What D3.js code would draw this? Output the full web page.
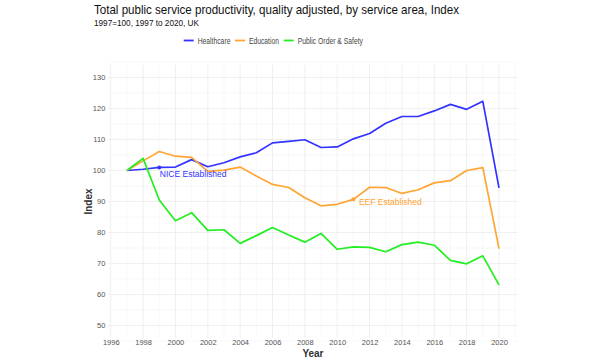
<!DOCTYPE html>
<html>
<head>
<meta charset="utf-8">
<script src="https://cdn.jsdelivr.net/npm/d3@7"></script>
<style>
	body { margin: 0; background: #fff; }
	text { font-family: "Liberation Sans", Arial, sans-serif; }
</style>
</head>
<body>
<svg id="chart" width="602" height="360"></svg>
<script>
// data
var years = d3.range(1997, 2021);
var healthcare = [100, 100.4, 101.0, 101.1, 103.5, 101.2, 102.5, 104.4, 105.7, 108.9, 109.4, 109.9,
	107.4, 107.6, 110.2, 111.9, 115.2, 117.4, 117.4, 119.2, 121.3, 119.7, 122.3, 94.4];
var education = [100, 103.1, 106.1, 104.6, 104.2, 99.7, 100.1, 101.1, 98.2, 95.5, 94.5, 91.2,
	88.6, 89.1, 90.7, 94.6, 94.5, 92.6, 93.8, 96.0, 96.7, 100.0, 100.9, 74.8];
var publicOrder = [100, 103.9, 90.5, 83.8, 86.4, 80.7, 80.9, 76.5, 79.0, 81.6, 79.2, 76.9,
	79.7, 74.6, 75.4, 75.2, 73.8, 76.1, 76.9, 75.9, 71.0, 69.9, 72.5, 63.1];
var seriesNames = ["Healthcare", "Education", "Public Order & Safety"];
var seriesColors = ["#3333ff", "#ffa533", "#22ee22"];
var xTicks = d3.range(1996, 2021, 2);
var yTicks = d3.range(50, 131, 10);
var annotations = [
	{ series: 0, year: 1999, label: "NICE Established", dx: 0.6, dy: 9.5 },
	{ series: 1, year: 2011, label: "EEF Established", dx: 5.5, dy: 6 }
];

var svg = d3.select("#chart");
var pLeft = 108.3, pRight = 517.6, pTop = 65, pBottom = 338;

var x = d3.scaleLinear().domain([1995.85, 2021.15]).range([pLeft, pRight]);
var y = d3.scaleLinear().domain([46, 134]).range([pBottom, pTop]);

// grid
var grid = svg.append("g").attr("class", "grid");
grid.selectAll(".xminor")
	.data(d3.range(1997, 2022, 2))
	.enter().append("line")
	.attr("x1", (d) => x(d)).attr("x2", (d) => x(d))
	.attr("y1", pTop).attr("y2", pBottom)
	.attr("stroke", "#f4f4f4").attr("stroke-width", 0.6);
grid.selectAll(".yminor")
	.data(d3.range(45, 136, 10))
	.enter().append("line")
	.attr("x1", pLeft).attr("x2", pRight)
	.attr("y1", (d) => y(d)).attr("y2", (d) => y(d))
	.attr("stroke", "#f4f4f4").attr("stroke-width", 0.6);
grid.selectAll(".xmajor")
	.data(xTicks)
	.enter().append("line")
	.attr("x1", (d) => x(d)).attr("x2", (d) => x(d))
	.attr("y1", pTop).attr("y2", pBottom)
	.attr("stroke", "#ededed").attr("stroke-width", 0.9);
grid.selectAll(".ymajor")
	.data(yTicks)
	.enter().append("line")
	.attr("x1", pLeft).attr("x2", pRight)
	.attr("y1", (d) => y(d)).attr("y2", (d) => y(d))
	.attr("stroke", "#ededed").attr("stroke-width", 0.9);

// axes
var xAxis = svg.append("g")
	.attr("transform", "translate(0," + pBottom + ")")
	.call(d3.axisBottom(x).tickValues(xTicks).tickFormat(d3.format("d")).tickSize(0).tickPadding(2));
var yAxis = svg.append("g")
	.attr("transform", "translate(" + pLeft + ",0)")
	.call(d3.axisLeft(y).tickValues(yTicks).tickSize(0).tickPadding(3));
[xAxis, yAxis].forEach(function(a) {
	a.select(".domain").remove();
	a.selectAll("text")
		.attr("fill", "#555")
		.style("font-size", "7.5px")
		.style("font-family", "Liberation Sans, Arial, sans-serif");
});

// lines
var allSeries = [healthcare, education, publicOrder];
var line = d3.line()
	.x((d, i) => x(years[i]))
	.y((d) => y(d));
svg.append("g").selectAll("path")
	.data(allSeries)
	.enter().append("path")
	.attr("d", line)
	.attr("fill", "none")
	.attr("stroke", (d, i) => seriesColors[i])
	.attr("stroke-width", 1.7)
	.attr("stroke-linejoin", "round");

// annotations
annotations.forEach(function(a) {
	var v = allSeries[a.series][years.indexOf(a.year)];
	svg.append("circle")
		.attr("cx", x(a.year)).attr("cy", y(v)).attr("r", 2)
		.attr("fill", seriesColors[a.series]);
	svg.append("text")
		.attr("x", x(a.year) + a.dx).attr("y", y(v) + a.dy)
		.attr("fill", seriesColors[a.series])
		.style("font-size", "8.5px")
		.text(a.label);
});

// axis titles
svg.append("text")
	.attr("x", (pLeft + pRight) / 2).attr("y", 357)
	.attr("text-anchor", "middle")
	.attr("fill", "#333")
	.style("font-size", "10px").style("font-weight", "bold")
	.text("Year");
svg.append("text")
	.attr("transform", "translate(92," + ((pTop + pBottom) / 2) + ") rotate(-90)")
	.attr("text-anchor", "middle")
	.attr("fill", "#333")
	.style("font-size", "10px").style("font-weight", "bold")
	.text("Index");

// titles
svg.append("text")
	.attr("x", 94).attr("y", 14)
	.attr("textLength", 365).attr("lengthAdjust", "spacingAndGlyphs")
	.attr("fill", "#111")
	.style("font-size", "13px")
	.text("Total public service productivity, quality adjusted, by service area, Index");
svg.append("text")
	.attr("x", 94).attr("y", 26)
	.attr("textLength", 105).attr("lengthAdjust", "spacingAndGlyphs")
	.attr("fill", "#111")
	.style("font-size", "9.5px")
	.text("1997=100, 1997 to 2020, UK");

// legend
var legendX = [183.7, 235, 283.7];
var legendW = [32.7, 30, 65.3];
var legend = svg.append("g").selectAll("g")
	.data(seriesNames)
	.enter().append("g")
	.attr("transform", (d, i) => "translate(" + legendX[i] + ",40.5)");
legend.append("line")
	.attr("x1", 0).attr("x2", 10)
	.attr("stroke", (d, i) => seriesColors[i])
	.attr("stroke-width", 1.8);
legend.append("text")
	.attr("x", 14).attr("y", 3)
	.attr("textLength", (d, i) => legendW[i]).attr("lengthAdjust", "spacingAndGlyphs")
	.attr("fill", "#444")
	.style("font-size", "8.5px")
	.text((d) => d);
</script>
</body>
</html>
